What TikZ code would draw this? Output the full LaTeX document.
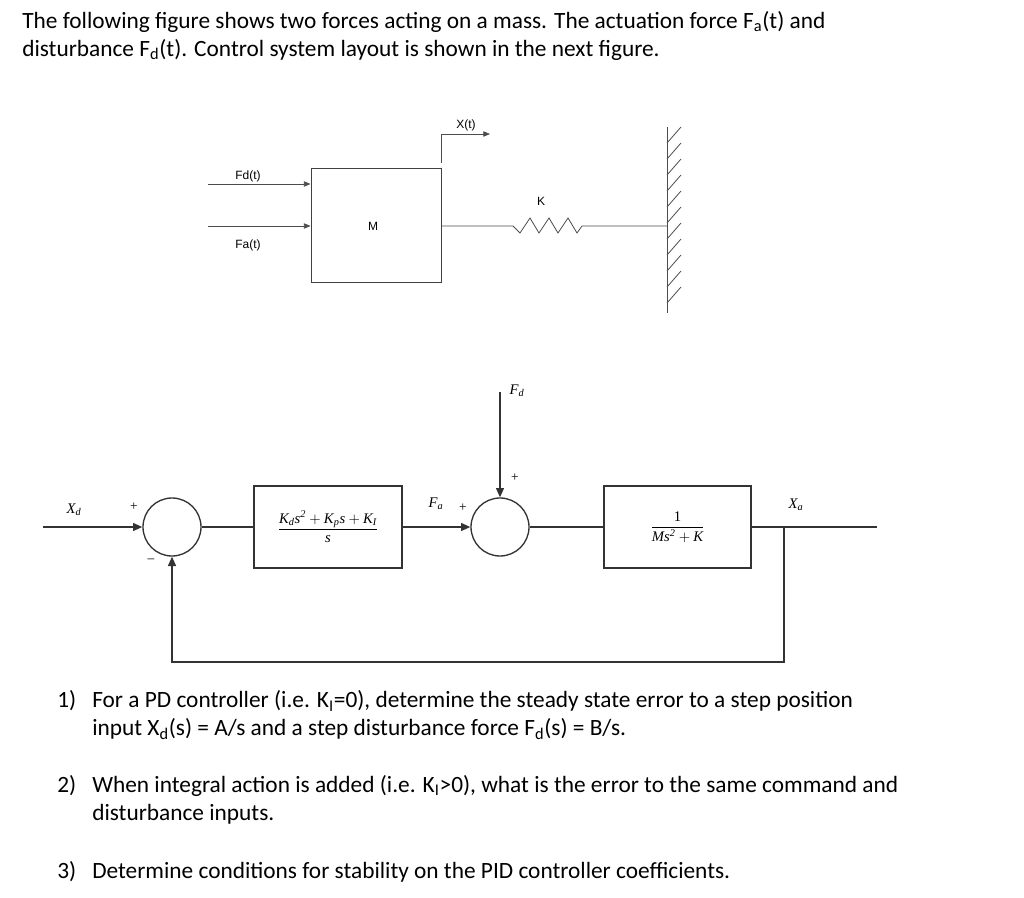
\documentclass[tikz,border=0pt]{standalone}
\usepackage{fontspec}
\setmainfont{Carlito}
\newfontfamily\arialf{Liberation Sans}
\newfontfamily\timesf{Liberation Serif}
\usetikzlibrary{arrows.meta}
\newcommand{\ti}[1]{\hbox{\timesf\itshape #1}}
\newcommand{\tu}[1]{\hbox{\timesf #1}}
\begin{document}
\begin{tikzpicture}[x=0.75pt,y=-0.75pt,
  txt/.style={anchor=west,font=\fontsize{17.5}{20}\selectfont,inner sep=0},
  lab/.style={font=\arialf\fontsize{9}{10}\selectfont,inner sep=0},
  mlab/.style={font=\timesf\itshape\fontsize{11}{12}\selectfont,inner sep=0},
  sgn/.style={font=\timesf\fontsize{10}{11}\selectfont,inner sep=0},
  gray/.style={draw=black!70,line width=0.6pt},
  ln/.style={draw=black!80,line width=1pt},
  blk/.style={draw=black!80,line width=1.2pt,rectangle,inner sep=0},
  sum/.style={draw=black!80,line width=1pt,circle,minimum size=43.5pt,inner sep=0},
  tri/.style={-{Triangle[length=7pt,width=6pt]}},
  gtri/.style={-{Triangle[length=5pt,width=4pt]}}]
\useasboundingbox (0,0) rectangle (1024,898);
% header
\node[txt] (h1) at (22,22) {The following figure shows two forces acting on a mass. The actuation force F\textsubscript{a}(t) and};
\node[txt] (h2) at (22,50) {disturbance F\textsubscript{d}(t). Control system layout is shown in the next figure.};
% mechanical figure
\node[draw=black!75,line width=0.7pt,minimum width=97.5pt,minimum height=85.5pt,inner sep=0] (m) at (376,225.5) {};
\node[lab] (mlab) at (373,226) {M};
\coordinate (fds) at (208,184);
\coordinate (fas) at (208,226);
\draw[gray,gtri] (fds) -- (fds -| m.west);
\draw[gray,gtri] (fas) -- (fas -| m.west);
\node[lab] (fdl) at (248,176) {Fd(t)};
\node[lab] (fal) at (248,245) {Fa(t)};
\coordinate (xa) at (441,163);
\coordinate (xb) at (441,134);
\coordinate (xc) at (490,134);
\draw[gray,gtri] (xa) -- (xb) -- (xc);
\node[lab] (xl) at (466,125) {X(t)};
\coordinate (s0) at (441,226);
\coordinate (wallm) at (667,226);
\draw[gray] (s0) -- (513,226) -- (520,233) -- (530,218) -- (539,233) -- (549,218) -- (558,233) -- (568,218) -- (577,233) -- (582,226) -- (wallm);
\node[lab] (kl) at (541,201) {K};
\coordinate (wt) at (667,127);
\coordinate (wb) at (667,313);
\draw[gray] (wt) -- (wb);
\foreach \y in {143,159,...,303} \draw[gray] (667,\y) -- (681,\y-16);
% block diagram
\node[sum] (c1) at (172,527) {};
\node[sum] (c2) at (500,527) {};
\node[blk,minimum width=111pt,minimum height=61.5pt] (ctrl) at (328,527) {};
\node[blk,minimum width=110pt,minimum height=61.5pt] (plant) at (677.5,527) {};
\node[font=\timesf\fontsize{11}{12}\selectfont,inner sep=0] (cfrac) at (328,527) {$\displaystyle\frac{\ti{K\textsubscript{d}s\textsuperscript{2}} + \ti{K\textsubscript{p}s} + \ti{K\textsubscript{I}}}{\ti{s}}$};
\node[font=\timesf\fontsize{11}{12}\selectfont,inner sep=0] (pfrac) at (677.5,527) {$\displaystyle\frac{\tu{1}}{\ti{Ms\textsuperscript{2}} + \ti{K}}$};
\coordinate (xin) at (43,527);
\coordinate (fdtop) at (500,392);
\coordinate (tap) at (784,527);
\coordinate (xout) at (877,527);
\coordinate (fb1) at (784,662);
\coordinate (fb2) at (172,662);
\draw[ln,tri] (xin) -- (c1.west);
\draw[ln] (c1.east) -- (ctrl.west);
\draw[ln,tri] (ctrl.east) -- (c2.west);
\draw[ln,tri] (fdtop) -- (c2.north);
\draw[ln] (c2.east) -- (plant.west);
\draw[ln] (plant.east) -- (xout);
\draw[ln,tri] (tap) -- (fb1) -- (fb2) -- (c1.south);
\node[mlab] (xdl) at (74,510) {X\textsubscript{d}};
\node[mlab] (fal2) at (436,504) {F\textsubscript{a}};
\node[mlab] (fdl2) at (517,391) {F\textsubscript{d}};
\node[mlab] (xal) at (796,505) {X\textsubscript{a}};
\node[sgn] (p1) at (134,507) {+};
\node[sgn] (m1) at (151,561) {–};
\node[sgn] (p2) at (463,508) {+};
\node[sgn] (p3) at (515,478) {+};
% questions
\node[txt] (q1n) at (57,701) {1)};
\node[txt] (q1a) at (92,701) {For a PD controller (i.e. K\textsubscript{I}=0), determine the steady state error to a step position};
\node[txt] (q1b) at (92,729) {input X\textsubscript{d}(s) = A/s and a step disturbance force F\textsubscript{d}(s) = B/s.};
\node[txt] (q2n) at (57,786) {2)};
\node[txt] (q2a) at (92,786) {When integral action is added (i.e. K\textsubscript{I}>0), what is the error to the same command and};
\node[txt] (q2b) at (92,814) {disturbance inputs.};
\node[txt] (q3n) at (57,872) {3)};
\node[txt] (q3a) at (92,872) {Determine conditions for stability on the PID controller coefficients.};
\end{tikzpicture}
\end{document}
